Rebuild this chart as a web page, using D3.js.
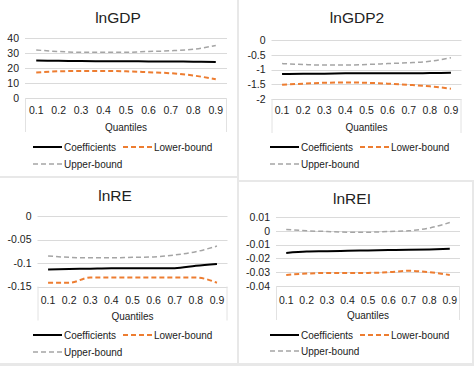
<!DOCTYPE html>
<html>
<head>
<meta charset="utf-8">
<script src="https://cdn.jsdelivr.net/npm/d3@7/dist/d3.min.js"></script>
<style>
html,body{margin:0;padding:0;background:#fff;}
svg{display:block;font-family:"Liberation Sans",Arial,sans-serif;}
</style>
</head>
<body>
<svg id="chart" width="474" height="366"></svg>
<script>
// ---- data ----
const quantiles = ["0.1","0.2","0.3","0.4","0.5","0.6","0.7","0.8","0.9"];
const seriesNames = ["Coefficients","Lower-bound","Upper-bound"];

const titles = ["lnGDP","lnGDP2","lnRE","lnREI"];

const gdpCoef  = [25, 24.8, 24.6, 24.5, 24.5, 24.4, 24.3, 24.2, 24];
const gdpLower = [17, 17.8, 18, 18, 17.8, 17.2, 16.5, 15, 12.5];
const gdpUpper = [32, 31, 30.5, 30.5, 30.5, 31, 31.5, 32.5, 35];
const gdpTicks = [0, 10, 20, 30, 40];

const gdp2Coef  = [-1.15, -1.14, -1.14, -1.13, -1.13, -1.13, -1.13, -1.12, -1.11];
const gdp2Lower = [-1.52, -1.48, -1.45, -1.44, -1.45, -1.48, -1.52, -1.57, -1.65];
const gdp2Upper = [-0.8, -0.83, -0.85, -0.85, -0.83, -0.8, -0.77, -0.72, -0.6];
const gdp2Ticks = [-2, -1.5, -1, -0.5, 0];

const reCoef  = [-0.114, -0.113, -0.112, -0.111, -0.111, -0.111, -0.111, -0.106, -0.102];
const reLower = [-0.142, -0.142, -0.131, -0.131, -0.131, -0.131, -0.131, -0.131, -0.142];
const reUpper = [-0.085, -0.088, -0.089, -0.089, -0.088, -0.087, -0.083, -0.076, -0.064];
const reTicks = [-0.15, -0.1, -0.05, 0];

const reiCoef  = [-0.016, -0.015, -0.0148, -0.0145, -0.0142, -0.014, -0.0138, -0.0135, -0.013];
const reiLower = [-0.032, -0.031, -0.0305, -0.0305, -0.0305, -0.030, -0.029, -0.030, -0.032];
const reiUpper = [0.001, 0, -0.0005, -0.001, -0.001, -0.0005, 0, 0.002, 0.006];
const reiTicks = [-0.04, -0.03, -0.02, -0.01, 0, 0.01];

// ---- layout / style ----
const colors = ["#000000", "#ED7D31", "#A5A5A5"];
const widths = [2, 2, 1.5];
const dashes = [null, "5,3", "5,3"];

const panels = [
  {title: titles[0], series:[gdpCoef,gdpLower,gdpUpper], ticks:gdpTicks, fmt:d=>d,
   x0:25, x1:227, yTop:38, yBot:98, titleX:118, titleY:17, labY:110, qY:127, legY1:147, legY2:164, legX:33},
  {title: titles[1], series:[gdp2Coef,gdp2Lower,gdp2Upper], ticks:gdp2Ticks, fmt:d=>d,
   x0:271.5, x1:461.5, yTop:40, yBot:99, titleX:357, titleY:17, labY:110, qY:127, legY1:147, legY2:164, legX:270},
  {title: titles[2], series:[reCoef,reLower,reUpper], ticks:reTicks, fmt:d=>d,
   x0:37.5, x1:227.5, yTop:216, yBot:286.5, titleX:115, titleY:195, labY:300, qY:316, legY1:335, legY2:352, legX:33},
  {title: titles[3], series:[reiCoef,reiLower,reiUpper], ticks:reiTicks, fmt:d=>d,
   x0:276, x1:460, yTop:217, yBot:286, titleX:352, titleY:198, labY:300, qY:315, legY1:335, legY2:351, legX:270}
];

const svg = d3.select("#chart");

// panel separators
const sep = "#e8e8e8";
svg.append("rect").attr("x",237).attr("y",0).attr("width",2).attr("height",366).attr("fill",sep);
svg.append("rect").attr("x",0).attr("y",176).attr("width",237).attr("height",2).attr("fill",sep);
svg.append("rect").attr("x",239).attr("y",180).attr("width",235).attr("height",2).attr("fill",sep);
svg.append("rect").attr("x",0).attr("y",363).attr("width",474).attr("height",3).attr("fill",sep);
svg.append("rect").attr("x",472).attr("y",182).attr("width",2).attr("height",184).attr("fill",sep);

panels.forEach(p => {
  const g = svg.append("g");
  const x = d3.scaleBand().domain(quantiles).range([p.x0, p.x1]);
  const ext = d3.extent(p.ticks);
  const y = d3.scaleLinear().domain(ext).range([p.yBot, p.yTop]);

  // title
  g.append("text").attr("x",p.titleX).attr("y",p.titleY).attr("dy","0.36em")
    .attr("text-anchor","middle").attr("font-size",15.5).attr("fill","#222").text(p.title);

  // gridlines
  g.selectAll(".grid").data(p.ticks).join("line")
    .attr("x1",p.x0).attr("x2",p.x1)
    .attr("y1",d=>Math.round(y(d))+0.5).attr("y2",d=>Math.round(y(d))+0.5)
    .attr("stroke","#dadada").attr("stroke-width",1);

  // y axis labels
  const yAxis = d3.axisLeft(y).tickValues(p.ticks).tickSize(0).tickPadding(0).tickFormat(p.fmt);
  const ya = g.append("g").attr("transform",`translate(${p.x0-6},0)`).call(yAxis);
  ya.select(".domain").remove();
  ya.selectAll("text").attr("font-size",10.5).attr("fill","#222")
    .attr("font-family","Liberation Sans, Arial, sans-serif");

  // category axis box lines
  g.append("line").attr("x1",p.x0+0.5).attr("x2",p.x0+0.5).attr("y1",p.yBot).attr("y2",p.yBot+34)
    .attr("stroke","#e2e2e2").attr("stroke-width",1);
  g.append("line").attr("x1",p.x1-0.5).attr("x2",p.x1-0.5).attr("y1",p.yBot).attr("y2",p.yBot+34)
    .attr("stroke","#e2e2e2").attr("stroke-width",1);

  // x axis labels
  const xAxis = d3.axisBottom(x).tickSize(0).tickPadding(0);
  const xa = g.append("g").attr("transform",`translate(0,${p.labY})`).call(xAxis);
  xa.select(".domain").remove();
  xa.selectAll("text").attr("dy","0.36em").attr("y",0).attr("font-size",10.5).attr("fill","#222")
    .attr("font-family","Liberation Sans, Arial, sans-serif");

  g.append("text").attr("x",(p.x0+p.x1)/2).attr("y",p.qY).attr("dy","0.36em")
    .attr("text-anchor","middle").attr("font-size",10).attr("fill","#222").text("Quantiles");

  // lines (draw upper, lower, then coef on top)
  const line = d3.line().x((d,i)=>x(quantiles[i]) + x.bandwidth()/2).y(d=>y(d)).curve(d3.curveMonotoneX);
  [2,1,0].forEach(k => {
    g.append("path").datum(p.series[k]).attr("d",line).attr("fill","none")
      .attr("stroke",colors[k]).attr("stroke-width",widths[k])
      .attr("stroke-dasharray",dashes[k]);
  });

  // legend
  const leg = [
    {k:0, x:p.legX, y:p.legY1},
    {k:1, x:p.legX+90, y:p.legY1},
    {k:2, x:p.legX, y:p.legY2}
  ];
  leg.forEach(L => {
    g.append("line").attr("x1",L.x).attr("x2",L.x+29).attr("y1",L.y).attr("y2",L.y)
      .attr("stroke",colors[L.k]).attr("stroke-width",widths[L.k]).attr("stroke-dasharray",dashes[L.k]);
    g.append("text").attr("x",L.x+31).attr("y",L.y).attr("dy","0.36em")
      .attr("font-size",10).attr("fill","#222").text(seriesNames[L.k]);
  });
});
</script>
</body>
</html>
